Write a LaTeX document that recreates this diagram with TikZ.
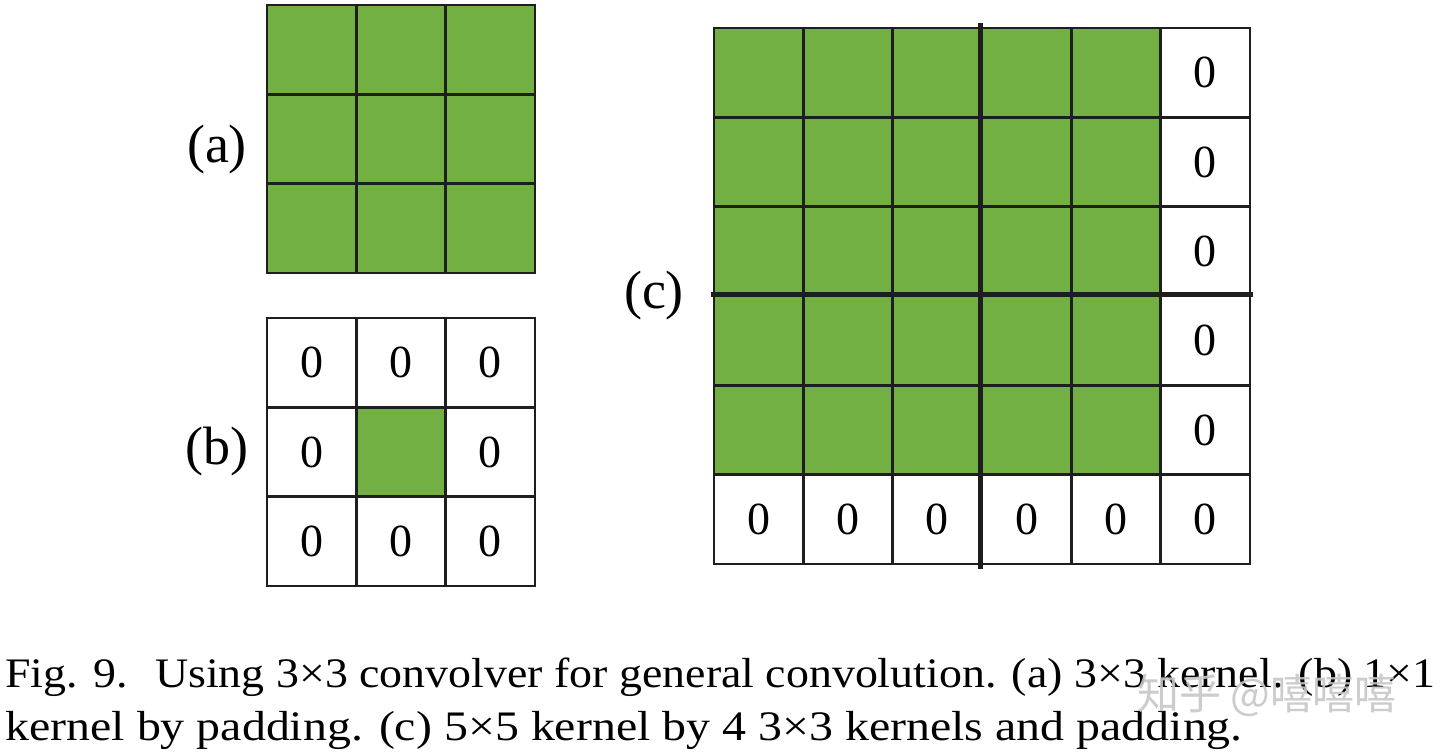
\documentclass[tikz,border=0pt]{standalone}
\usepackage{fontspec}
\setmainfont{Liberation Serif}
\newfontfamily\cjk{Noto Sans CJK SC}
\definecolor{kgreen}{RGB}{114,176,68}
\definecolor{gridline}{RGB}{30,30,30}
\begin{document}
\begin{tikzpicture}[x=0.5pt,y=-0.5pt,
  cell/.style={draw=gridline, line width=1.4pt, minimum width=44.67pt, minimum height=44.67pt,
    inner sep=0pt, font=\fontsize{23}{23}\selectfont},
  gcell/.style={cell, fill=kgreen},
  wcell/.style={cell, fill=white},
  lab/.style={inner sep=0pt, font=\fontsize{27}{27}\selectfont},
  heavy/.style={draw=gridline, line width=2.8pt},
  capline/.style={inner sep=0pt, anchor=base west, font=\fontsize{21}{21}\selectfont},
  wmark/.style={inner sep=0pt, text=black!22, opacity=0.9, font=\cjk\fontsize{21}{21}\selectfont}]
\useasboundingbox (0,0) rectangle (1440,754);
\fill[white] (0,0) rectangle (1440,754);
% (a)
\foreach \i in {1,2,3}{\foreach \j in {1,2,3}{
  \node[gcell] (a-\i-\j) at ({267+89.33*(\j-0.5)},{5+89.33*(\i-0.5)}) {};
}}
% (b)
\foreach \i in {1,2,3}{\foreach \j in {1,2,3}{
  \pgfmathtruncatemacro\z{(\i==2)&&(\j==2)}
  \ifnum\z=1
    \node[gcell] (b-\i-\j) at ({267+89.33*(\j-0.5)},{318+89.33*(\i-0.5)}) {};
  \else
    \node[wcell] (b-\i-\j) at ({267+89.33*(\j-0.5)},{318+89.33*(\i-0.5)}) {0};
  \fi
}}
% (c)
\foreach \i in {1,...,6}{\foreach \j in {1,...,6}{
  \pgfmathtruncatemacro\z{(\i==6)||(\j==6)}
  \ifnum\z=1
    \node[wcell] (c-\i-\j) at ({714+89.33*(\j-0.5)},{28+89.33*(\i-0.5)}) {0};
  \else
    \node[gcell] (c-\i-\j) at ({714+89.33*(\j-0.5)},{28+89.33*(\i-0.5)}) {};
  \fi
}}
\draw[heavy] ([yshift=2pt]c-1-4.north west) -- ([yshift=-2pt]c-6-4.south west);
\draw[heavy] ([xshift=-1pt]c-4-1.north west) -- ([xshift=1pt]c-4-6.north east);
% labels
\node[lab] (la) at (217,150) {(a)};
\node[lab] (lb) at (217,452) {(b)};
\node[lab] (lc) at (654,296) {(c)};
% caption
\node[capline] (cap1) at (5,687) {\resizebox{715pt}{\height}{Fig. 9.\hspace{0.6em}Using 3×3 convolver for general convolution. (a) 3×3 kernel. (b) 1×1}};
\node[capline] (cap2) at (5,740) {\scalebox{1.14}[1]{kernel by padding. (c) 5×5 kernel by 4 3×3 kernels and padding.}};
\node[wmark, anchor=west] (wm) at (1137,695) {知乎 @嘻嘻嘻};
\end{tikzpicture}
\end{document}
